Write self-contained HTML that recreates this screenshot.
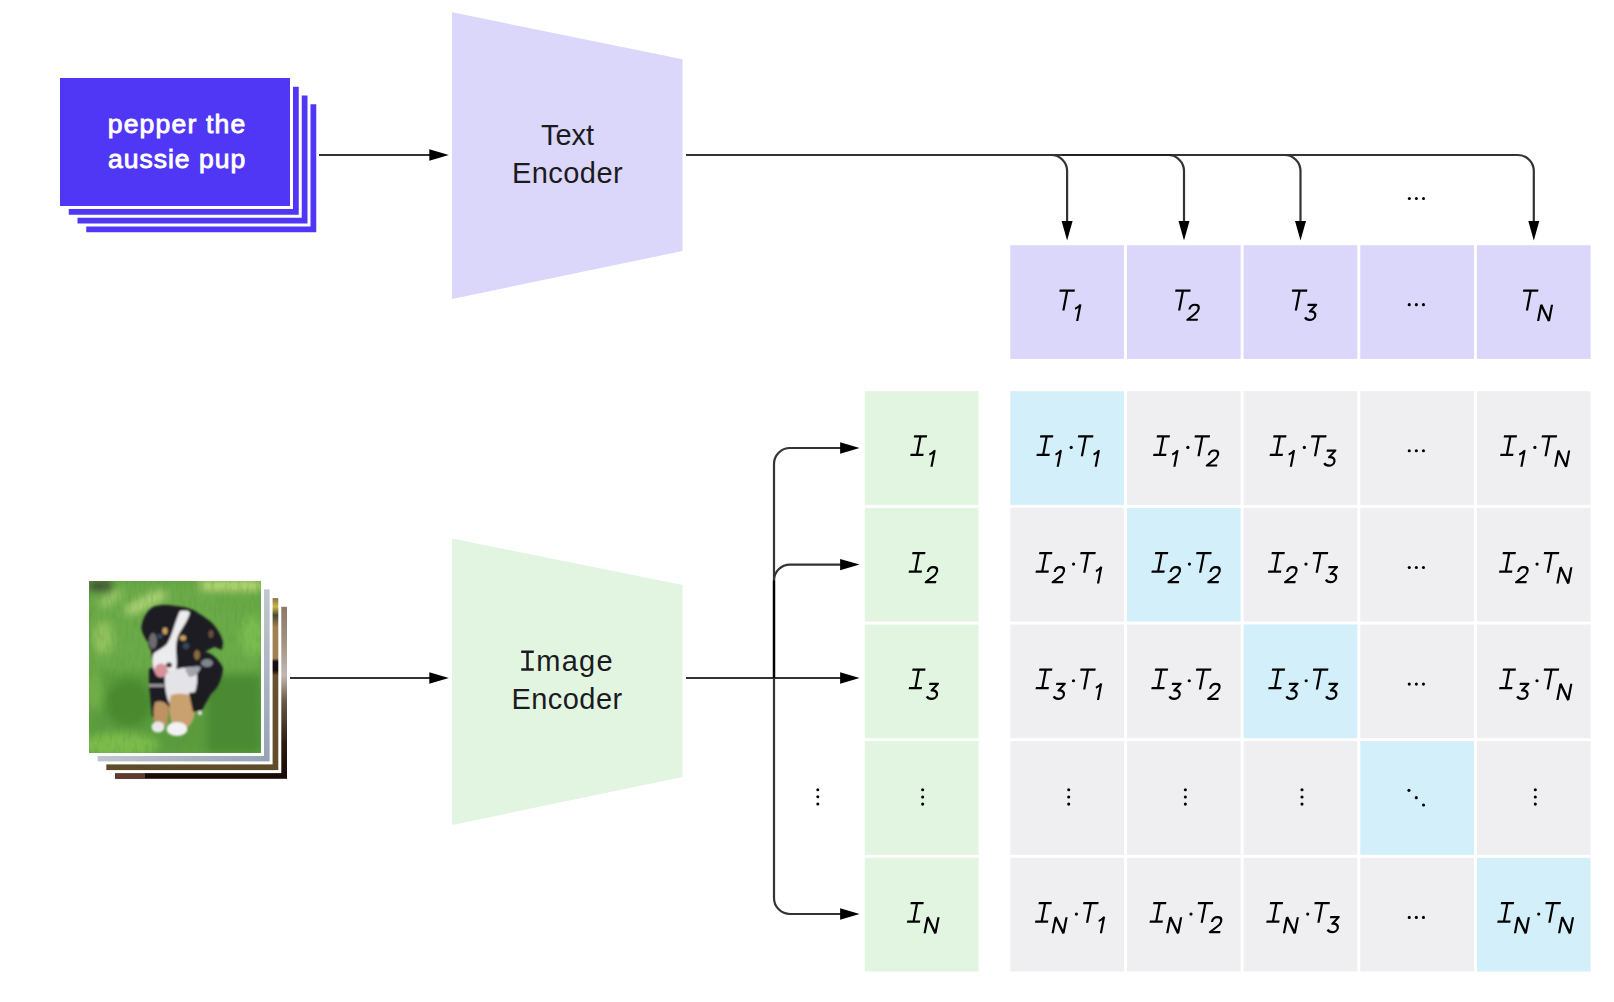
<!DOCTYPE html>
<html><head><meta charset="utf-8"><style>
html,body{margin:0;padding:0;background:#fff;width:1614px;height:1002px;overflow:hidden}
svg{position:absolute;left:0;top:0;display:block}
text{font-family:"Liberation Sans",sans-serif}
</style></head><body>
<svg width="1614" height="1002" viewBox="0 0 1614 1002">

<rect x="83.25" y="101.25" width="236" height="134" fill="#fff"/>
<rect x="86.25" y="104.25" width="230" height="128" fill="#4F37F5"/>
<rect x="74.50" y="92.50" width="236" height="134" fill="#fff"/>
<rect x="77.50" y="95.50" width="230" height="128" fill="#4F37F5"/>
<rect x="65.75" y="83.75" width="236" height="134" fill="#fff"/>
<rect x="68.75" y="86.75" width="230" height="128" fill="#4F37F5"/>
<rect x="57.00" y="75.00" width="236" height="134" fill="#fff"/>
<rect x="60.00" y="78.00" width="230" height="128" fill="#4F37F5"/>
<text x="177.1" y="133.2" font-size="26.5" fill="#fff" stroke="#fff" stroke-width="0.9" text-anchor="middle" letter-spacing="1.2">pepper the</text>
<text x="177.1" y="168.4" font-size="26.5" fill="#fff" stroke="#fff" stroke-width="0.9" text-anchor="middle" letter-spacing="1.0">aussie pup</text>
<defs><filter id="bl" x="-10%" y="-10%" width="120%" height="120%"><feGaussianBlur stdDeviation="1.3"/></filter><filter id="bl2" x="-20%" y="-20%" width="140%" height="140%"><feGaussianBlur stdDeviation="4"/></filter><filter id="grass" x="0" y="0" width="100%" height="100%"><feTurbulence type="fractalNoise" baseFrequency="0.35 0.08" numOctaves="2" seed="3"/><feColorMatrix type="matrix" values="0 0 0 0 0.1  0 0 0 0 0.25  0 0 0 0 0.05  0 0 0 1.6 -0.75"/></filter><clipPath id="cp0"><rect x="0" y="0" width="172" height="172"/></clipPath><linearGradient id="l2" x1="0" y1="0" x2="1" y2="1"><stop offset="0" stop-color="#dcdfe3"/><stop offset="0.5" stop-color="#c0c6cc"/><stop offset="1" stop-color="#94a2b4"/></linearGradient><linearGradient id="l3" x1="0" y1="0" x2="0" y2="1"><stop offset="0" stop-color="#8a7050"/><stop offset="0.05" stop-color="#c8b848"/><stop offset="0.1" stop-color="#4a4a30"/><stop offset="0.17" stop-color="#a08050"/><stop offset="0.35" stop-color="#a08050"/><stop offset="0.37" stop-color="#181010"/><stop offset="0.42" stop-color="#181010"/><stop offset="0.45" stop-color="#6a5030"/><stop offset="1" stop-color="#5e4c28"/></linearGradient><linearGradient id="l4" x1="0" y1="0" x2="0" y2="1"><stop offset="0" stop-color="#907868"/><stop offset="0.2" stop-color="#a09080"/><stop offset="0.4" stop-color="#c0b8b0"/><stop offset="0.55" stop-color="#6a5848"/><stop offset="0.8" stop-color="#2a1a12"/><stop offset="1" stop-color="#1a0a06"/></linearGradient></defs>
<rect x="112" y="603.8" width="178" height="178" fill="#fff"/>
<rect x="115" y="606.8" width="172" height="172" fill="url(#l4)"/>
<rect x="115" y="770" width="30" height="8.8" fill="#6b4535" opacity="0.85"/>
<rect x="103.3" y="595.1" width="178" height="178" fill="#fff"/>
<rect x="106.3" y="598.1" width="172" height="172" fill="url(#l3)"/>
<rect x="94.6" y="586.4" width="178" height="178" fill="#fff"/>
<rect x="97.6" y="589.4" width="172" height="172" fill="url(#l2)"/>
<rect x="86" y="578" width="178" height="178" fill="#fff"/>
<g transform="translate(89,581)" clip-path="url(#cp0)">
<rect x="0" y="0" width="172" height="172" fill="#62a240"/>
<g filter="url(#bl2)">
<rect x="0" y="0" width="172" height="90" fill="#6aaa46"/>
<rect x="0" y="90" width="172" height="82" fill="#5a9c3c"/>
<rect x="118" y="95" width="54" height="77" fill="#4a8a30"/>
<ellipse cx="40" cy="122" rx="24" ry="24" fill="#4a8a2e"/>
<ellipse cx="30" cy="164" rx="40" ry="12" fill="#7cbc4c"/>
<ellipse cx="6" cy="110" rx="8" ry="20" fill="#72b048"/>
<rect x="0" y="0" width="24" height="11" fill="#3a4530"/>
<polygon points="10,22 28,8 34,12 16,27" fill="#a2d06c"/>
<polygon points="34,28 70,10 80,15 42,33" fill="#b8dc7c"/>
<ellipse cx="14" cy="57" rx="10" ry="16" fill="#92c45e"/>
<rect x="112" y="0" width="60" height="8" fill="#c8e480"/>
<ellipse cx="164" cy="55" rx="12" ry="20" fill="#7cbc50"/>
<ellipse cx="150" cy="20" rx="25" ry="10" fill="#68a844"/>
</g>
<rect x="0" y="0" width="172" height="172" filter="url(#grass)" opacity="0.4"/>
<g filter="url(#bl)">
<path d="M60,88 L113,70 C122,71 130,78 134,87 C133,100 128,108 122,113 C118,120 115,125 113,129 L104,131 L100,118 L82,120 L78,136 L63,136 L60,103 Z" fill="#1f1d22"/>
<path d="M64,26 C72,23 80,24 87,25 C97,26 104,28 109,32 C116,36 121,40 124,43 C129,49 133,55 134,62 L133,69 C130,68 127,66 125,66 C121,68 118,70 114,72 L113,87 L64,92 L62,69 C60,66 59,64 59.6,62 C55,56 52,50 52.5,45.5 C54,36 58,30 64,26 Z" fill="#1e1b21"/>
<ellipse cx="64" cy="60" rx="4" ry="8" fill="#6e6a70"/>
<path d="M91,30 C95,29 100,29 101,32 C99,38 95,45 91,51 C88,56 87,62 87,70 C88,78 88,84 87,90 L66,91 C63,85 62,78 65,72 C69,69 74,67 78,63 C81,58 83,52 85,46 C87,40 89,34 91,30 Z" fill="#ecebee"/>
<ellipse cx="80" cy="84" rx="3" ry="2.5" fill="#302a30"/>
<path d="M76,92 C84,88 96,86 106,86 C110,96 108,108 104,116 C98,122 88,124 80,122 C76,112 75,100 76,92 Z" fill="#e4e4e8"/>
<ellipse cx="118" cy="82" rx="6" ry="4" fill="#80868e"/>
<path d="M96,88 C102,86 108,84 112,86 C110,92 106,96 100,96 Z" fill="#a0a4ac"/>
<rect x="60" y="103" width="15" height="3" fill="#b0b0b6" opacity="0.8"/>
<path d="M82,114 C90,112 102,112 106,118 C108,128 105,141 99,146 L84,147 C80,136 79,124 82,114 Z" fill="#c9a070"/>
<path d="M66,121 C72,119 78,121 80,127 L78,144 L66,144 C64,135 64,128 66,121 Z" fill="#bf9262"/>
<path d="M100,112 L116,110 L114,128 L104,131 Z" fill="#1c1a1e"/>
<ellipse cx="88" cy="148" rx="10.5" ry="7" fill="#f2f2f4"/>
<ellipse cx="69" cy="146" rx="6.5" ry="5.5" fill="#e8e8ec"/>
<circle cx="111" cy="132" r="2.2" fill="#e0e0e4"/>
<ellipse cx="76" cy="50" rx="2.6" ry="3.4" fill="#c8a060"/>
<ellipse cx="94" cy="57" rx="3.2" ry="2.8" fill="#c8a060"/>
<ellipse cx="108" cy="74" rx="3" ry="5" fill="#8a6a40"/>
<ellipse cx="122" cy="53" rx="2.5" ry="4" fill="#6a5040"/>
<circle cx="71" cy="55" r="2.6" fill="#34465c"/>
<circle cx="97" cy="65" r="3.2" fill="#34465c"/>
<ellipse cx="72" cy="89.5" rx="6.5" ry="7" fill="#d8909a"/>
</g>
</g>
<polygon points="452,12.3 682.5,59.2 682.5,251 452,299" fill="#DBD7FA"/>
<polygon points="452,538.5 682.5,585 682.5,777 452,825" fill="#E1F5E1"/>
<text x="567.5" y="144.7" font-size="29" fill="#1b1b1f" text-anchor="middle">Text</text>
<text x="567.5" y="182.8" font-size="29" fill="#1b1b1f" text-anchor="middle" letter-spacing="0.45">Encoder</text>
<path d="M521.2,651.7 H533.8 M521.2,669.5 H533.8 M527.5,651.7 V669.5" stroke="#1b1b1f" stroke-width="2.5" fill="none"/>
<text x="536.2" y="670.8" font-size="29" fill="#1b1b1f" letter-spacing="1.3">mage</text>
<text x="567" y="709.3" font-size="29" fill="#1b1b1f" text-anchor="middle" letter-spacing="0.45">Encoder</text>
<path d="M319,155 H430" stroke="#333333" stroke-width="2.2" fill="none"/>
<polygon points="429.3,149.3 448.8,155 429.3,160.7" fill="#000"/>
<path d="M290,678 H430" stroke="#333333" stroke-width="2.2" fill="none"/>
<polygon points="429.3,672.3 448.8,678 429.3,683.7" fill="#000"/>
<path d="M686,155 H1517.8 A16,16 0 0 1 1533.8,171 V222" stroke="#333333" stroke-width="2.2" fill="none"/>
<path d="M1051.1,155 A16,16 0 0 1 1067.1,171 V222" stroke="#333333" stroke-width="2.2" fill="none"/>
<path d="M1168,155 A16,16 0 0 1 1184,171 V222" stroke="#333333" stroke-width="2.2" fill="none"/>
<path d="M1284.5,155 A16,16 0 0 1 1300.5,171 V222" stroke="#333333" stroke-width="2.2" fill="none"/>
<path d="M1062,155 H1172" stroke="#000" stroke-opacity="0.35" stroke-width="2.2" fill="none"/>
<polygon points="1061.6,221.0 1067.1,240.5 1072.6,221.0" fill="#000"/>
<polygon points="1178.5,221.0 1184,240.5 1189.5,221.0" fill="#000"/>
<polygon points="1295.0,221.0 1300.5,240.5 1306.0,221.0" fill="#000"/>
<polygon points="1528.3,221.0 1533.8,240.5 1539.3,221.0" fill="#000"/>
<circle cx="1409.3000000000002" cy="198.6" r="1.5" fill="#000"/>
<circle cx="1416.4" cy="198.6" r="1.5" fill="#000"/>
<circle cx="1423.5" cy="198.6" r="1.5" fill="#000"/>
<path d="M686,678 H841" stroke="#333333" stroke-width="2.2" fill="none"/>
<path d="M841,448.0 H790.0 A16,16 0 0 0 774.0,464.0 V898 A16,16 0 0 0 790.0,914 H841" stroke="#333333" stroke-width="2.2" fill="none"/>
<path d="M774.0,678 V580.6 A16,16 0 0 1 790.0,564.6 H841" stroke="#333333" stroke-width="2.2" fill="none"/>
<path d="M774.0,678 V580.6" stroke="#000" stroke-width="2.2" fill="none"/>
<polygon points="840.1,442.3 859.6,448.0 840.1,453.7" fill="#000"/>
<polygon points="840.1,558.9 859.6,564.6 840.1,570.3000000000001" fill="#000"/>
<polygon points="840.1,672.3 859.6,678 840.1,683.7" fill="#000"/>
<polygon points="840.1,908.3 859.6,914 840.1,919.7" fill="#000"/>
<circle cx="817.8" cy="789.65" r="1.5" fill="#000"/>
<circle cx="817.8" cy="796.8" r="1.5" fill="#000"/>
<circle cx="817.8" cy="803.9499999999999" r="1.5" fill="#000"/>
<rect x="1010.30" y="245.2" width="113.7" height="113.7" fill="#DBD7FA"/>
<rect x="1126.95" y="245.2" width="113.7" height="113.7" fill="#DBD7FA"/>
<rect x="1243.60" y="245.2" width="113.7" height="113.7" fill="#DBD7FA"/>
<rect x="1360.25" y="245.2" width="113.7" height="113.7" fill="#DBD7FA"/>
<rect x="1476.90" y="245.2" width="113.7" height="113.7" fill="#DBD7FA"/>
<rect x="864.8" y="391.20" width="113.7" height="113.7" fill="#E1F5E1"/>
<rect x="1010.30" y="391.20" width="113.7" height="113.7" fill="#D3EFFA"/>
<rect x="1126.95" y="391.20" width="113.7" height="113.7" fill="#EFEFF1"/>
<rect x="1243.60" y="391.20" width="113.7" height="113.7" fill="#EFEFF1"/>
<rect x="1360.25" y="391.20" width="113.7" height="113.7" fill="#EFEFF1"/>
<rect x="1476.90" y="391.20" width="113.7" height="113.7" fill="#EFEFF1"/>
<rect x="864.8" y="507.85" width="113.7" height="113.7" fill="#E1F5E1"/>
<rect x="1010.30" y="507.85" width="113.7" height="113.7" fill="#EFEFF1"/>
<rect x="1126.95" y="507.85" width="113.7" height="113.7" fill="#D3EFFA"/>
<rect x="1243.60" y="507.85" width="113.7" height="113.7" fill="#EFEFF1"/>
<rect x="1360.25" y="507.85" width="113.7" height="113.7" fill="#EFEFF1"/>
<rect x="1476.90" y="507.85" width="113.7" height="113.7" fill="#EFEFF1"/>
<rect x="864.8" y="624.50" width="113.7" height="113.7" fill="#E1F5E1"/>
<rect x="1010.30" y="624.50" width="113.7" height="113.7" fill="#EFEFF1"/>
<rect x="1126.95" y="624.50" width="113.7" height="113.7" fill="#EFEFF1"/>
<rect x="1243.60" y="624.50" width="113.7" height="113.7" fill="#D3EFFA"/>
<rect x="1360.25" y="624.50" width="113.7" height="113.7" fill="#EFEFF1"/>
<rect x="1476.90" y="624.50" width="113.7" height="113.7" fill="#EFEFF1"/>
<rect x="864.8" y="741.15" width="113.7" height="113.7" fill="#E1F5E1"/>
<rect x="1010.30" y="741.15" width="113.7" height="113.7" fill="#EFEFF1"/>
<rect x="1126.95" y="741.15" width="113.7" height="113.7" fill="#EFEFF1"/>
<rect x="1243.60" y="741.15" width="113.7" height="113.7" fill="#EFEFF1"/>
<rect x="1360.25" y="741.15" width="113.7" height="113.7" fill="#D3EFFA"/>
<rect x="1476.90" y="741.15" width="113.7" height="113.7" fill="#EFEFF1"/>
<rect x="864.8" y="857.80" width="113.7" height="113.7" fill="#E1F5E1"/>
<rect x="1010.30" y="857.80" width="113.7" height="113.7" fill="#EFEFF1"/>
<rect x="1126.95" y="857.80" width="113.7" height="113.7" fill="#EFEFF1"/>
<rect x="1243.60" y="857.80" width="113.7" height="113.7" fill="#EFEFF1"/>
<rect x="1360.25" y="857.80" width="113.7" height="113.7" fill="#EFEFF1"/>
<rect x="1476.90" y="857.80" width="113.7" height="113.7" fill="#D3EFFA"/>
<path transform="translate(1063.40,310.40) skewX(-10.76)" d="M-7.6,-19.75 H7.6 M0,-19.75 V0" stroke="#000" stroke-width="2.25" fill="none" stroke-miterlimit="3" stroke-linejoin="miter"/>
<path transform="translate(1077.20,321.00) skewX(-10.76)" d="M-4.5,-12.3 Q-1.6,-13.4 0.3,-16.5 M0,-16.6 V0" stroke="#000" stroke-width="2.2" fill="none" stroke-miterlimit="3" stroke-linejoin="miter"/>
<path transform="translate(1179.15,310.40) skewX(-10.76)" d="M-7.6,-19.75 H7.6 M0,-19.75 V0" stroke="#000" stroke-width="2.25" fill="none" stroke-miterlimit="3" stroke-linejoin="miter"/>
<path transform="translate(1185.95,321.00) skewX(-10.76)" d="M1.3,-11.4 C1.3,-14.4 3.2,-16.25 5.8,-16.25 C8.6,-16.25 10.4,-14.4 10.4,-11.9 C10.4,-9.7 9.2,-8.3 7.2,-6.6 L1.2,-1.25 L11.6,-1.25" stroke="#000" stroke-width="2.2" fill="none" stroke-miterlimit="3" stroke-linejoin="round"/>
<path transform="translate(1295.85,310.40) skewX(-10.76)" d="M-7.6,-19.75 H7.6 M0,-19.75 V0" stroke="#000" stroke-width="2.25" fill="none" stroke-miterlimit="3" stroke-linejoin="miter"/>
<path transform="translate(1302.65,321.00) skewX(-10.76)" d="M1.8,-16.2 H10.4 L5.4,-9.6 C9.4,-10 11.6,-7.8 11.6,-5.1 C11.6,-2.5 9.5,-1.2 6.9,-1.2 C4.6,-1.2 2.8,-2.1 1.7,-3.7" stroke="#000" stroke-width="2.2" fill="none" stroke-miterlimit="3" stroke-linejoin="round"/>
<circle cx="1409.25" cy="304.65" r="1.55" fill="#000"/>
<circle cx="1416.35" cy="304.65" r="1.55" fill="#000"/>
<circle cx="1423.45" cy="304.65" r="1.55" fill="#000"/>
<path transform="translate(1526.93,310.40) skewX(-10.76)" d="M-7.6,-19.75 H7.6 M0,-19.75 V0" stroke="#000" stroke-width="2.25" fill="none" stroke-miterlimit="3" stroke-linejoin="miter"/>
<path transform="translate(1538.13,321.00) skewX(-10.76)" d="M0,0 V-16.2 L10.8,0 V-16.2" stroke="#000" stroke-width="2.2" fill="none" stroke-miterlimit="3" stroke-linejoin="miter"/>
<path transform="translate(916.70,456.15) skewX(-10.76)" d="M-6.5,-19.75 H6.5 M-6.5,-1.25 H6.5 M0,-19.75 V-1.25" stroke="#000" stroke-width="2.25" fill="none" stroke-miterlimit="3" stroke-linejoin="miter"/>
<path transform="translate(931.50,466.75) skewX(-10.76)" d="M-4.5,-12.3 Q-1.6,-13.4 0.3,-16.5 M0,-16.6 V0" stroke="#000" stroke-width="2.2" fill="none" stroke-miterlimit="3" stroke-linejoin="miter"/>
<path transform="translate(1042.90,456.15) skewX(-10.76)" d="M-6.5,-19.75 H6.5 M-6.5,-1.25 H6.5 M0,-19.75 V-1.25" stroke="#000" stroke-width="2.25" fill="none" stroke-miterlimit="3" stroke-linejoin="miter"/>
<path transform="translate(1057.70,466.75) skewX(-10.76)" d="M-4.5,-12.3 Q-1.6,-13.4 0.3,-16.5 M0,-16.6 V0" stroke="#000" stroke-width="2.2" fill="none" stroke-miterlimit="3" stroke-linejoin="miter"/>
<circle cx="1071.20" cy="447.45" r="1.6" fill="#000"/>
<path transform="translate(1081.90,456.15) skewX(-10.76)" d="M-7.6,-19.75 H7.6 M0,-19.75 V0" stroke="#000" stroke-width="2.25" fill="none" stroke-miterlimit="3" stroke-linejoin="miter"/>
<path transform="translate(1095.70,466.75) skewX(-10.76)" d="M-4.5,-12.3 Q-1.6,-13.4 0.3,-16.5 M0,-16.6 V0" stroke="#000" stroke-width="2.2" fill="none" stroke-miterlimit="3" stroke-linejoin="miter"/>
<path transform="translate(1159.55,456.15) skewX(-10.76)" d="M-6.5,-19.75 H6.5 M-6.5,-1.25 H6.5 M0,-19.75 V-1.25" stroke="#000" stroke-width="2.25" fill="none" stroke-miterlimit="3" stroke-linejoin="miter"/>
<path transform="translate(1174.35,466.75) skewX(-10.76)" d="M-4.5,-12.3 Q-1.6,-13.4 0.3,-16.5 M0,-16.6 V0" stroke="#000" stroke-width="2.2" fill="none" stroke-miterlimit="3" stroke-linejoin="miter"/>
<circle cx="1187.85" cy="447.45" r="1.6" fill="#000"/>
<path transform="translate(1198.55,456.15) skewX(-10.76)" d="M-7.6,-19.75 H7.6 M0,-19.75 V0" stroke="#000" stroke-width="2.25" fill="none" stroke-miterlimit="3" stroke-linejoin="miter"/>
<path transform="translate(1205.35,466.75) skewX(-10.76)" d="M1.3,-11.4 C1.3,-14.4 3.2,-16.25 5.8,-16.25 C8.6,-16.25 10.4,-14.4 10.4,-11.9 C10.4,-9.7 9.2,-8.3 7.2,-6.6 L1.2,-1.25 L11.6,-1.25" stroke="#000" stroke-width="2.2" fill="none" stroke-miterlimit="3" stroke-linejoin="round"/>
<path transform="translate(1276.05,456.15) skewX(-10.76)" d="M-6.5,-19.75 H6.5 M-6.5,-1.25 H6.5 M0,-19.75 V-1.25" stroke="#000" stroke-width="2.25" fill="none" stroke-miterlimit="3" stroke-linejoin="miter"/>
<path transform="translate(1290.85,466.75) skewX(-10.76)" d="M-4.5,-12.3 Q-1.6,-13.4 0.3,-16.5 M0,-16.6 V0" stroke="#000" stroke-width="2.2" fill="none" stroke-miterlimit="3" stroke-linejoin="miter"/>
<circle cx="1304.35" cy="447.45" r="1.6" fill="#000"/>
<path transform="translate(1315.05,456.15) skewX(-10.76)" d="M-7.6,-19.75 H7.6 M0,-19.75 V0" stroke="#000" stroke-width="2.25" fill="none" stroke-miterlimit="3" stroke-linejoin="miter"/>
<path transform="translate(1321.85,466.75) skewX(-10.76)" d="M1.8,-16.2 H10.4 L5.4,-9.6 C9.4,-10 11.6,-7.8 11.6,-5.1 C11.6,-2.5 9.5,-1.2 6.9,-1.2 C4.6,-1.2 2.8,-2.1 1.7,-3.7" stroke="#000" stroke-width="2.2" fill="none" stroke-miterlimit="3" stroke-linejoin="round"/>
<circle cx="1409.25" cy="450.80" r="1.55" fill="#000"/>
<circle cx="1416.35" cy="450.80" r="1.55" fill="#000"/>
<circle cx="1423.45" cy="450.80" r="1.55" fill="#000"/>
<path transform="translate(1506.60,456.15) skewX(-10.76)" d="M-6.5,-19.75 H6.5 M-6.5,-1.25 H6.5 M0,-19.75 V-1.25" stroke="#000" stroke-width="2.25" fill="none" stroke-miterlimit="3" stroke-linejoin="miter"/>
<path transform="translate(1521.40,466.75) skewX(-10.76)" d="M-4.5,-12.3 Q-1.6,-13.4 0.3,-16.5 M0,-16.6 V0" stroke="#000" stroke-width="2.2" fill="none" stroke-miterlimit="3" stroke-linejoin="miter"/>
<circle cx="1534.90" cy="447.45" r="1.6" fill="#000"/>
<path transform="translate(1545.60,456.15) skewX(-10.76)" d="M-7.6,-19.75 H7.6 M0,-19.75 V0" stroke="#000" stroke-width="2.25" fill="none" stroke-miterlimit="3" stroke-linejoin="miter"/>
<path transform="translate(1555.30,466.75) skewX(-10.76)" d="M0,0 V-16.2 L10.8,0 V-16.2" stroke="#000" stroke-width="2.2" fill="none" stroke-miterlimit="3" stroke-linejoin="miter"/>
<path transform="translate(915.05,572.80) skewX(-10.76)" d="M-6.5,-19.75 H6.5 M-6.5,-1.25 H6.5 M0,-19.75 V-1.25" stroke="#000" stroke-width="2.25" fill="none" stroke-miterlimit="3" stroke-linejoin="miter"/>
<path transform="translate(924.35,583.40) skewX(-10.76)" d="M1.3,-11.4 C1.3,-14.4 3.2,-16.25 5.8,-16.25 C8.6,-16.25 10.4,-14.4 10.4,-11.9 C10.4,-9.7 9.2,-8.3 7.2,-6.6 L1.2,-1.25 L11.6,-1.25" stroke="#000" stroke-width="2.2" fill="none" stroke-miterlimit="3" stroke-linejoin="round"/>
<path transform="translate(1041.95,572.80) skewX(-10.76)" d="M-6.5,-19.75 H6.5 M-6.5,-1.25 H6.5 M0,-19.75 V-1.25" stroke="#000" stroke-width="2.25" fill="none" stroke-miterlimit="3" stroke-linejoin="miter"/>
<path transform="translate(1051.25,583.40) skewX(-10.76)" d="M1.3,-11.4 C1.3,-14.4 3.2,-16.25 5.8,-16.25 C8.6,-16.25 10.4,-14.4 10.4,-11.9 C10.4,-9.7 9.2,-8.3 7.2,-6.6 L1.2,-1.25 L11.6,-1.25" stroke="#000" stroke-width="2.2" fill="none" stroke-miterlimit="3" stroke-linejoin="round"/>
<circle cx="1073.55" cy="564.10" r="1.6" fill="#000"/>
<path transform="translate(1084.25,572.80) skewX(-10.76)" d="M-7.6,-19.75 H7.6 M0,-19.75 V0" stroke="#000" stroke-width="2.25" fill="none" stroke-miterlimit="3" stroke-linejoin="miter"/>
<path transform="translate(1098.05,583.40) skewX(-10.76)" d="M-4.5,-12.3 Q-1.6,-13.4 0.3,-16.5 M0,-16.6 V0" stroke="#000" stroke-width="2.2" fill="none" stroke-miterlimit="3" stroke-linejoin="miter"/>
<path transform="translate(1157.85,572.80) skewX(-10.76)" d="M-6.5,-19.75 H6.5 M-6.5,-1.25 H6.5 M0,-19.75 V-1.25" stroke="#000" stroke-width="2.25" fill="none" stroke-miterlimit="3" stroke-linejoin="miter"/>
<path transform="translate(1167.15,583.40) skewX(-10.76)" d="M1.3,-11.4 C1.3,-14.4 3.2,-16.25 5.8,-16.25 C8.6,-16.25 10.4,-14.4 10.4,-11.9 C10.4,-9.7 9.2,-8.3 7.2,-6.6 L1.2,-1.25 L11.6,-1.25" stroke="#000" stroke-width="2.2" fill="none" stroke-miterlimit="3" stroke-linejoin="round"/>
<circle cx="1189.45" cy="564.10" r="1.6" fill="#000"/>
<path transform="translate(1200.15,572.80) skewX(-10.76)" d="M-7.6,-19.75 H7.6 M0,-19.75 V0" stroke="#000" stroke-width="2.25" fill="none" stroke-miterlimit="3" stroke-linejoin="miter"/>
<path transform="translate(1206.95,583.40) skewX(-10.76)" d="M1.3,-11.4 C1.3,-14.4 3.2,-16.25 5.8,-16.25 C8.6,-16.25 10.4,-14.4 10.4,-11.9 C10.4,-9.7 9.2,-8.3 7.2,-6.6 L1.2,-1.25 L11.6,-1.25" stroke="#000" stroke-width="2.2" fill="none" stroke-miterlimit="3" stroke-linejoin="round"/>
<path transform="translate(1274.40,572.80) skewX(-10.76)" d="M-6.5,-19.75 H6.5 M-6.5,-1.25 H6.5 M0,-19.75 V-1.25" stroke="#000" stroke-width="2.25" fill="none" stroke-miterlimit="3" stroke-linejoin="miter"/>
<path transform="translate(1283.70,583.40) skewX(-10.76)" d="M1.3,-11.4 C1.3,-14.4 3.2,-16.25 5.8,-16.25 C8.6,-16.25 10.4,-14.4 10.4,-11.9 C10.4,-9.7 9.2,-8.3 7.2,-6.6 L1.2,-1.25 L11.6,-1.25" stroke="#000" stroke-width="2.2" fill="none" stroke-miterlimit="3" stroke-linejoin="round"/>
<circle cx="1306.00" cy="564.10" r="1.6" fill="#000"/>
<path transform="translate(1316.70,572.80) skewX(-10.76)" d="M-7.6,-19.75 H7.6 M0,-19.75 V0" stroke="#000" stroke-width="2.25" fill="none" stroke-miterlimit="3" stroke-linejoin="miter"/>
<path transform="translate(1323.50,583.40) skewX(-10.76)" d="M1.8,-16.2 H10.4 L5.4,-9.6 C9.4,-10 11.6,-7.8 11.6,-5.1 C11.6,-2.5 9.5,-1.2 6.9,-1.2 C4.6,-1.2 2.8,-2.1 1.7,-3.7" stroke="#000" stroke-width="2.2" fill="none" stroke-miterlimit="3" stroke-linejoin="round"/>
<circle cx="1409.25" cy="567.45" r="1.55" fill="#000"/>
<circle cx="1416.35" cy="567.45" r="1.55" fill="#000"/>
<circle cx="1423.45" cy="567.45" r="1.55" fill="#000"/>
<path transform="translate(1505.47,572.80) skewX(-10.76)" d="M-6.5,-19.75 H6.5 M-6.5,-1.25 H6.5 M0,-19.75 V-1.25" stroke="#000" stroke-width="2.25" fill="none" stroke-miterlimit="3" stroke-linejoin="miter"/>
<path transform="translate(1514.77,583.40) skewX(-10.76)" d="M1.3,-11.4 C1.3,-14.4 3.2,-16.25 5.8,-16.25 C8.6,-16.25 10.4,-14.4 10.4,-11.9 C10.4,-9.7 9.2,-8.3 7.2,-6.6 L1.2,-1.25 L11.6,-1.25" stroke="#000" stroke-width="2.2" fill="none" stroke-miterlimit="3" stroke-linejoin="round"/>
<circle cx="1537.07" cy="564.10" r="1.6" fill="#000"/>
<path transform="translate(1547.77,572.80) skewX(-10.76)" d="M-7.6,-19.75 H7.6 M0,-19.75 V0" stroke="#000" stroke-width="2.25" fill="none" stroke-miterlimit="3" stroke-linejoin="miter"/>
<path transform="translate(1557.47,583.40) skewX(-10.76)" d="M0,0 V-16.2 L10.8,0 V-16.2" stroke="#000" stroke-width="2.2" fill="none" stroke-miterlimit="3" stroke-linejoin="miter"/>
<path transform="translate(915.10,689.45) skewX(-10.76)" d="M-6.5,-19.75 H6.5 M-6.5,-1.25 H6.5 M0,-19.75 V-1.25" stroke="#000" stroke-width="2.25" fill="none" stroke-miterlimit="3" stroke-linejoin="miter"/>
<path transform="translate(924.40,700.05) skewX(-10.76)" d="M1.8,-16.2 H10.4 L5.4,-9.6 C9.4,-10 11.6,-7.8 11.6,-5.1 C11.6,-2.5 9.5,-1.2 6.9,-1.2 C4.6,-1.2 2.8,-2.1 1.7,-3.7" stroke="#000" stroke-width="2.2" fill="none" stroke-miterlimit="3" stroke-linejoin="round"/>
<path transform="translate(1042.00,689.45) skewX(-10.76)" d="M-6.5,-19.75 H6.5 M-6.5,-1.25 H6.5 M0,-19.75 V-1.25" stroke="#000" stroke-width="2.25" fill="none" stroke-miterlimit="3" stroke-linejoin="miter"/>
<path transform="translate(1051.30,700.05) skewX(-10.76)" d="M1.8,-16.2 H10.4 L5.4,-9.6 C9.4,-10 11.6,-7.8 11.6,-5.1 C11.6,-2.5 9.5,-1.2 6.9,-1.2 C4.6,-1.2 2.8,-2.1 1.7,-3.7" stroke="#000" stroke-width="2.2" fill="none" stroke-miterlimit="3" stroke-linejoin="round"/>
<circle cx="1073.50" cy="680.75" r="1.6" fill="#000"/>
<path transform="translate(1084.20,689.45) skewX(-10.76)" d="M-7.6,-19.75 H7.6 M0,-19.75 V0" stroke="#000" stroke-width="2.25" fill="none" stroke-miterlimit="3" stroke-linejoin="miter"/>
<path transform="translate(1098.00,700.05) skewX(-10.76)" d="M-4.5,-12.3 Q-1.6,-13.4 0.3,-16.5 M0,-16.6 V0" stroke="#000" stroke-width="2.2" fill="none" stroke-miterlimit="3" stroke-linejoin="miter"/>
<path transform="translate(1157.75,689.45) skewX(-10.76)" d="M-6.5,-19.75 H6.5 M-6.5,-1.25 H6.5 M0,-19.75 V-1.25" stroke="#000" stroke-width="2.25" fill="none" stroke-miterlimit="3" stroke-linejoin="miter"/>
<path transform="translate(1167.05,700.05) skewX(-10.76)" d="M1.8,-16.2 H10.4 L5.4,-9.6 C9.4,-10 11.6,-7.8 11.6,-5.1 C11.6,-2.5 9.5,-1.2 6.9,-1.2 C4.6,-1.2 2.8,-2.1 1.7,-3.7" stroke="#000" stroke-width="2.2" fill="none" stroke-miterlimit="3" stroke-linejoin="round"/>
<circle cx="1189.25" cy="680.75" r="1.6" fill="#000"/>
<path transform="translate(1199.95,689.45) skewX(-10.76)" d="M-7.6,-19.75 H7.6 M0,-19.75 V0" stroke="#000" stroke-width="2.25" fill="none" stroke-miterlimit="3" stroke-linejoin="miter"/>
<path transform="translate(1206.75,700.05) skewX(-10.76)" d="M1.3,-11.4 C1.3,-14.4 3.2,-16.25 5.8,-16.25 C8.6,-16.25 10.4,-14.4 10.4,-11.9 C10.4,-9.7 9.2,-8.3 7.2,-6.6 L1.2,-1.25 L11.6,-1.25" stroke="#000" stroke-width="2.2" fill="none" stroke-miterlimit="3" stroke-linejoin="round"/>
<path transform="translate(1274.70,689.45) skewX(-10.76)" d="M-6.5,-19.75 H6.5 M-6.5,-1.25 H6.5 M0,-19.75 V-1.25" stroke="#000" stroke-width="2.25" fill="none" stroke-miterlimit="3" stroke-linejoin="miter"/>
<path transform="translate(1284.00,700.05) skewX(-10.76)" d="M1.8,-16.2 H10.4 L5.4,-9.6 C9.4,-10 11.6,-7.8 11.6,-5.1 C11.6,-2.5 9.5,-1.2 6.9,-1.2 C4.6,-1.2 2.8,-2.1 1.7,-3.7" stroke="#000" stroke-width="2.2" fill="none" stroke-miterlimit="3" stroke-linejoin="round"/>
<circle cx="1306.20" cy="680.75" r="1.6" fill="#000"/>
<path transform="translate(1316.90,689.45) skewX(-10.76)" d="M-7.6,-19.75 H7.6 M0,-19.75 V0" stroke="#000" stroke-width="2.25" fill="none" stroke-miterlimit="3" stroke-linejoin="miter"/>
<path transform="translate(1323.70,700.05) skewX(-10.76)" d="M1.8,-16.2 H10.4 L5.4,-9.6 C9.4,-10 11.6,-7.8 11.6,-5.1 C11.6,-2.5 9.5,-1.2 6.9,-1.2 C4.6,-1.2 2.8,-2.1 1.7,-3.7" stroke="#000" stroke-width="2.2" fill="none" stroke-miterlimit="3" stroke-linejoin="round"/>
<circle cx="1409.25" cy="684.10" r="1.55" fill="#000"/>
<circle cx="1416.35" cy="684.10" r="1.55" fill="#000"/>
<circle cx="1423.45" cy="684.10" r="1.55" fill="#000"/>
<path transform="translate(1505.53,689.45) skewX(-10.76)" d="M-6.5,-19.75 H6.5 M-6.5,-1.25 H6.5 M0,-19.75 V-1.25" stroke="#000" stroke-width="2.25" fill="none" stroke-miterlimit="3" stroke-linejoin="miter"/>
<path transform="translate(1514.83,700.05) skewX(-10.76)" d="M1.8,-16.2 H10.4 L5.4,-9.6 C9.4,-10 11.6,-7.8 11.6,-5.1 C11.6,-2.5 9.5,-1.2 6.9,-1.2 C4.6,-1.2 2.8,-2.1 1.7,-3.7" stroke="#000" stroke-width="2.2" fill="none" stroke-miterlimit="3" stroke-linejoin="round"/>
<circle cx="1537.03" cy="680.75" r="1.6" fill="#000"/>
<path transform="translate(1547.73,689.45) skewX(-10.76)" d="M-7.6,-19.75 H7.6 M0,-19.75 V0" stroke="#000" stroke-width="2.25" fill="none" stroke-miterlimit="3" stroke-linejoin="miter"/>
<path transform="translate(1557.43,700.05) skewX(-10.76)" d="M0,0 V-16.2 L10.8,0 V-16.2" stroke="#000" stroke-width="2.2" fill="none" stroke-miterlimit="3" stroke-linejoin="miter"/>
<circle cx="922.65" cy="789.80" r="1.55" fill="#000"/>
<circle cx="922.65" cy="796.95" r="1.55" fill="#000"/>
<circle cx="922.65" cy="804.10" r="1.55" fill="#000"/>
<circle cx="1068.70" cy="789.80" r="1.55" fill="#000"/>
<circle cx="1068.70" cy="796.95" r="1.55" fill="#000"/>
<circle cx="1068.70" cy="804.10" r="1.55" fill="#000"/>
<circle cx="1185.35" cy="789.80" r="1.55" fill="#000"/>
<circle cx="1185.35" cy="796.95" r="1.55" fill="#000"/>
<circle cx="1185.35" cy="804.10" r="1.55" fill="#000"/>
<circle cx="1302.00" cy="789.80" r="1.55" fill="#000"/>
<circle cx="1302.00" cy="796.95" r="1.55" fill="#000"/>
<circle cx="1302.00" cy="804.10" r="1.55" fill="#000"/>
<circle cx="1408.95" cy="790.35" r="1.55" fill="#000"/>
<circle cx="1416.25" cy="797.65" r="1.55" fill="#000"/>
<circle cx="1423.55" cy="804.95" r="1.55" fill="#000"/>
<circle cx="1535.30" cy="789.80" r="1.55" fill="#000"/>
<circle cx="1535.30" cy="796.95" r="1.55" fill="#000"/>
<circle cx="1535.30" cy="804.10" r="1.55" fill="#000"/>
<path transform="translate(913.35,922.75) skewX(-10.76)" d="M-6.5,-19.75 H6.5 M-6.5,-1.25 H6.5 M0,-19.75 V-1.25" stroke="#000" stroke-width="2.25" fill="none" stroke-miterlimit="3" stroke-linejoin="miter"/>
<path transform="translate(924.60,933.35) skewX(-10.76)" d="M0,0 V-16.2 L10.8,0 V-16.2" stroke="#000" stroke-width="2.2" fill="none" stroke-miterlimit="3" stroke-linejoin="miter"/>
<path transform="translate(1041.40,922.75) skewX(-10.76)" d="M-6.5,-19.75 H6.5 M-6.5,-1.25 H6.5 M0,-19.75 V-1.25" stroke="#000" stroke-width="2.25" fill="none" stroke-miterlimit="3" stroke-linejoin="miter"/>
<path transform="translate(1052.65,933.35) skewX(-10.76)" d="M0,0 V-16.2 L10.8,0 V-16.2" stroke="#000" stroke-width="2.2" fill="none" stroke-miterlimit="3" stroke-linejoin="miter"/>
<circle cx="1076.40" cy="914.05" r="1.6" fill="#000"/>
<path transform="translate(1087.10,922.75) skewX(-10.76)" d="M-7.6,-19.75 H7.6 M0,-19.75 V0" stroke="#000" stroke-width="2.25" fill="none" stroke-miterlimit="3" stroke-linejoin="miter"/>
<path transform="translate(1100.90,933.35) skewX(-10.76)" d="M-4.5,-12.3 Q-1.6,-13.4 0.3,-16.5 M0,-16.6 V0" stroke="#000" stroke-width="2.2" fill="none" stroke-miterlimit="3" stroke-linejoin="miter"/>
<path transform="translate(1156.00,922.75) skewX(-10.76)" d="M-6.5,-19.75 H6.5 M-6.5,-1.25 H6.5 M0,-19.75 V-1.25" stroke="#000" stroke-width="2.25" fill="none" stroke-miterlimit="3" stroke-linejoin="miter"/>
<path transform="translate(1167.25,933.35) skewX(-10.76)" d="M0,0 V-16.2 L10.8,0 V-16.2" stroke="#000" stroke-width="2.2" fill="none" stroke-miterlimit="3" stroke-linejoin="miter"/>
<circle cx="1191.00" cy="914.05" r="1.6" fill="#000"/>
<path transform="translate(1201.70,922.75) skewX(-10.76)" d="M-7.6,-19.75 H7.6 M0,-19.75 V0" stroke="#000" stroke-width="2.25" fill="none" stroke-miterlimit="3" stroke-linejoin="miter"/>
<path transform="translate(1208.50,933.35) skewX(-10.76)" d="M1.3,-11.4 C1.3,-14.4 3.2,-16.25 5.8,-16.25 C8.6,-16.25 10.4,-14.4 10.4,-11.9 C10.4,-9.7 9.2,-8.3 7.2,-6.6 L1.2,-1.25 L11.6,-1.25" stroke="#000" stroke-width="2.2" fill="none" stroke-miterlimit="3" stroke-linejoin="round"/>
<path transform="translate(1272.70,922.75) skewX(-10.76)" d="M-6.5,-19.75 H6.5 M-6.5,-1.25 H6.5 M0,-19.75 V-1.25" stroke="#000" stroke-width="2.25" fill="none" stroke-miterlimit="3" stroke-linejoin="miter"/>
<path transform="translate(1283.95,933.35) skewX(-10.76)" d="M0,0 V-16.2 L10.8,0 V-16.2" stroke="#000" stroke-width="2.2" fill="none" stroke-miterlimit="3" stroke-linejoin="miter"/>
<circle cx="1307.70" cy="914.05" r="1.6" fill="#000"/>
<path transform="translate(1318.40,922.75) skewX(-10.76)" d="M-7.6,-19.75 H7.6 M0,-19.75 V0" stroke="#000" stroke-width="2.25" fill="none" stroke-miterlimit="3" stroke-linejoin="miter"/>
<path transform="translate(1325.20,933.35) skewX(-10.76)" d="M1.8,-16.2 H10.4 L5.4,-9.6 C9.4,-10 11.6,-7.8 11.6,-5.1 C11.6,-2.5 9.5,-1.2 6.9,-1.2 C4.6,-1.2 2.8,-2.1 1.7,-3.7" stroke="#000" stroke-width="2.2" fill="none" stroke-miterlimit="3" stroke-linejoin="round"/>
<circle cx="1409.25" cy="917.40" r="1.55" fill="#000"/>
<circle cx="1416.35" cy="917.40" r="1.55" fill="#000"/>
<circle cx="1423.45" cy="917.40" r="1.55" fill="#000"/>
<path transform="translate(1503.70,922.75) skewX(-10.76)" d="M-6.5,-19.75 H6.5 M-6.5,-1.25 H6.5 M0,-19.75 V-1.25" stroke="#000" stroke-width="2.25" fill="none" stroke-miterlimit="3" stroke-linejoin="miter"/>
<path transform="translate(1514.95,933.35) skewX(-10.76)" d="M0,0 V-16.2 L10.8,0 V-16.2" stroke="#000" stroke-width="2.2" fill="none" stroke-miterlimit="3" stroke-linejoin="miter"/>
<circle cx="1538.70" cy="914.05" r="1.6" fill="#000"/>
<path transform="translate(1549.40,922.75) skewX(-10.76)" d="M-7.6,-19.75 H7.6 M0,-19.75 V0" stroke="#000" stroke-width="2.25" fill="none" stroke-miterlimit="3" stroke-linejoin="miter"/>
<path transform="translate(1559.10,933.35) skewX(-10.76)" d="M0,0 V-16.2 L10.8,0 V-16.2" stroke="#000" stroke-width="2.2" fill="none" stroke-miterlimit="3" stroke-linejoin="miter"/>
</svg></body></html>
